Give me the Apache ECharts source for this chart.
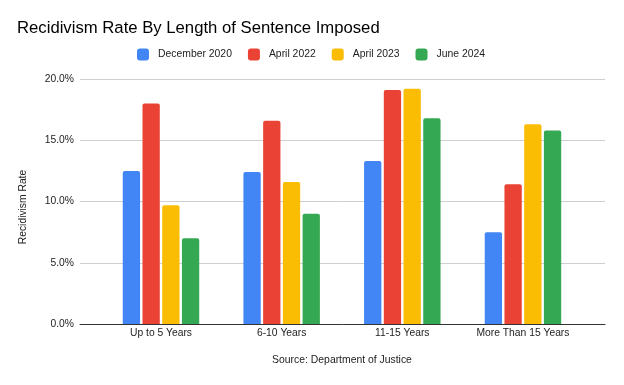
<!DOCTYPE html>
<html>
<head>
<meta charset="utf-8">
<script src="https://cdn.jsdelivr.net/npm/echarts@6/dist/echarts.min.js"></script>
<style>html,body{margin:0;padding:0;background:#fff}#c{width:624px;height:385px}</style>
</head>
<body>
<div id="c"></div>
<script>
const categories = ['Up to 5 Years', '6-10 Years', '11-15 Years', 'More Than 15 Years'];
const seriesNames = ['December 2020', 'April 2022', 'April 2023', 'June 2024'];
const dec2020 = [0.125, 0.124, 0.133, 0.075];
const apr2022 = [0.180, 0.166, 0.191, 0.114];
const apr2023 = [0.097, 0.116, 0.192, 0.163];
const jun2024 = [0.070, 0.090, 0.168, 0.158];
const yTicks = [0, 0.05, 0.10, 0.15, 0.20];

const colors = ['#4285F4', '#EA4335', '#FBBC04', '#34A853'];
const values = [dec2020, apr2022, apr2023, jun2024];
const font = 'Arial, "Liberation Sans", sans-serif';

const chart = echarts.init(document.getElementById('c'));
chart.setOption({
  animation: false,
  color: colors,
  textStyle: { fontFamily: font },
  title: {
    text: 'Recidivism Rate By Length of Sentence Imposed',
    left: 17, top: 18, padding: 0,
    textStyle: { fontFamily: font, fontSize: 16.7, fontWeight: 'normal', color: '#000', lineHeight: 20 }
  },
  legend: {
    data: seriesNames,
    left: 137, top: 48.5, padding: 0,
    itemWidth: 12, itemHeight: 12, itemGap: 16,
    icon: 'roundRect',
    textStyle: { fontFamily: font, fontSize: 10.4, color: '#222', padding: [0, 0, 0, 4] }
  },
  grid: [
    { left: 80, right: 19, top: 79, bottom: 61 },
    { left: 100.67, right: 40.7, top: 79, bottom: 61 }
  ],
  xAxis: [
    { type: 'category', gridIndex: 0, data: [''],
      axisLine: { show: true, lineStyle: { color: '#333', width: 1 } },
      axisTick: { show: false }, axisLabel: { show: false } },
    { type: 'category', gridIndex: 1, data: categories,
      axisLine: { show: false }, axisTick: { show: false },
      axisLabel: { interval: 0, margin: 4, fontFamily: font, fontSize: 10.3, color: '#222' } }
  ],
  yAxis: [
    { type: 'value', gridIndex: 0, min: yTicks[0], max: yTicks[yTicks.length - 1], interval: 0.05,
      axisLine: { show: false }, axisTick: { show: false },
      axisLabel: { margin: 6, fontFamily: font, fontSize: 10.3, color: '#222',
        formatter: v => (v * 100).toFixed(1) + '%' },
      splitLine: { lineStyle: { color: '#cfcfcf', width: 1 } } },
    { type: 'value', gridIndex: 1, min: yTicks[0], max: yTicks[yTicks.length - 1], interval: 0.05,
      show: false, splitLine: { show: false } }
  ],
  series: seriesNames.map((n, i) => ({
    name: n, type: 'bar', xAxisIndex: 1, yAxisIndex: 1,
    data: values[i], barWidth: 17.3, barGap: '14%',
    itemStyle: { color: colors[i], borderRadius: [2, 2, 0, 0] }
  })),
  graphic: [
    { type: 'text', x: 23, y: 207, rotation: Math.PI / 2,
      style: { text: 'Recidivism Rate', font: '10.3px ' + font, fill: '#222', align: 'center', verticalAlign: 'middle' } },
    { type: 'text', x: 342, y: 360,
      style: { text: 'Source: Department of Justice', font: '10.4px ' + font, fill: '#222', align: 'center', verticalAlign: 'middle' } }
  ]
});
</script>
</body>
</html>
